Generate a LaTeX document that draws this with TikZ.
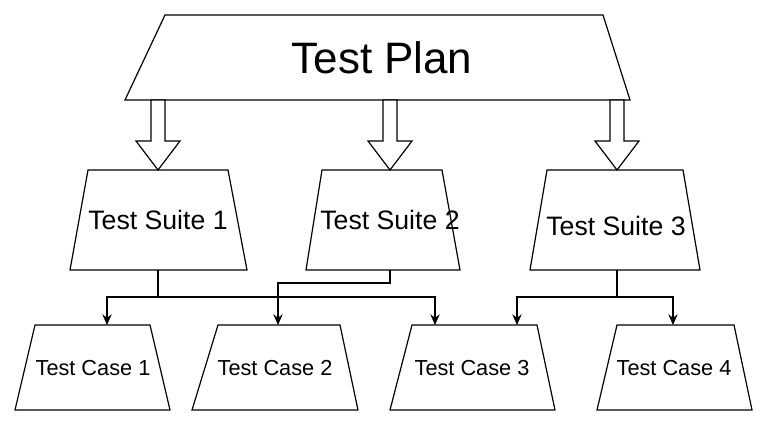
\documentclass[tikz,border=0pt]{standalone}
\usepackage{fontspec}
\setmainfont{Liberation Sans}
\usetikzlibrary{arrows.meta}
\begin{document}
\begin{tikzpicture}[x=0.75pt,y=-0.75pt,line width=0.9pt,
  lbl/.style={inner sep=0pt},
  conn/.style={-{Stealth[length=8pt,width=7pt]}},
  blk/.style={fill=white,draw}]
\useasboundingbox (0,0) rectangle (768,424);
% Test plan
\draw (165,15) -- (603,15) -- (630,100) -- (125,100) -- cycle;
\node[lbl,font=\fontsize{33}{38}\selectfont] (plan) at (382,58) {Test Plan};
% block arrows
\foreach \x in {158,390,617}{
 \draw[blk] (\x-7,100) -- (\x+7,100) -- (\x+7,141) -- (\x+22,141) -- (\x,170) -- (\x-22,141) -- (\x-7,141) -- cycle;}
% suites
\draw (88,170) -- (228,170) -- (247,270) -- (70,270) -- cycle;
\draw (322,170) -- (442,170) -- (460,270) -- (306,270) -- cycle;
\draw (547,170) -- (683,170) -- (700,270) -- (530,270) -- cycle;
\node[lbl,font=\fontsize{20}{24}\selectfont] (s1) at (158,220) {Test Suite 1};
\node[lbl,font=\fontsize{20}{24}\selectfont] (s2) at (390,220) {Test Suite 2};
\node[lbl,font=\fontsize{20}{24}\selectfont] (s3) at (616,226) {Test Suite 3};
\coordinate (s1b) at (158,270); \coordinate (s2b) at (390,270); \coordinate (s3b) at (617,270);
% cases
\draw (35,325) -- (150,325) -- (170,410) -- (15,410) -- cycle;
\draw (218,325) -- (340,325) -- (358,410) -- (192,410) -- cycle;
\draw (412,325) -- (537,325) -- (555,410) -- (390,410) -- cycle;
\draw (617,325) -- (734,325) -- (752,410) -- (597,410) -- cycle;
\node[lbl,font=\fontsize{16.3}{19}\selectfont] (c1) at (93,368) {Test Case 1};
\node[lbl,font=\fontsize{16.3}{19}\selectfont] (c2) at (275,368) {Test Case 2};
\node[lbl,font=\fontsize{16.3}{19}\selectfont] (c3) at (472,368) {Test Case 3};
\node[lbl,font=\fontsize{16.3}{19}\selectfont] (c4) at (674,368) {Test Case 4};
\coordinate (c1t) at (107,325); \coordinate (c2t) at (278,325);
\coordinate (c3t) at (435,325); \coordinate (c3u) at (517,325); \coordinate (c4t) at (673,325);
% connectors
\draw[conn] (s1b) -- (158,297) -| (c1t);
\draw[conn] (s1b) -- (158,297) -| (c3t);
\draw[conn] (s2b) -- (390,283) -| (c2t);
\draw[conn] (s3b) -- (617,297) -| (c3u);
\draw[conn] (s3b) -- (617,297) -| (c4t);
\end{tikzpicture}
\end{document}
